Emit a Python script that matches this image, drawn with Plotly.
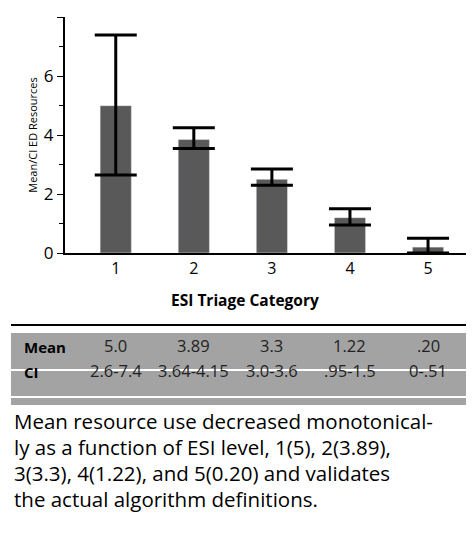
import plotly.graph_objects as go

# values
categories = [1, 2, 3, 4, 5]
mean_bar = [5.0, 3.85, 2.5, 1.2, 0.2]
ci_low = [2.65, 3.55, 2.3, 0.95, 0.0]
ci_high = [7.4, 4.25, 2.85, 1.5, 0.5]

row_mean = ["5.0", "3.89", "3.3", "1.22", ".20"]
row_ci = ["2.6-7.4", "3.64-4.15", "3.0-3.6", ".95-1.5", "0-.51"]

caption = [
    "Mean resource use decreased monotonical-",
    "ly as a function of ESI level, 1(5), 2(3.89),",
    "3(3.3), 4(1.22), and 5(0.20) and validates",
    "the actual algorithm definitions.",
]

W, H = 474, 538
L, R, T, B = 57, 4, 9, 293
pw, ph = W - L - R, H - T - B


def px(x):
    return (x - L) / pw


def py(y):
    return (H - B - y) / ph


FONT = "Open Sans"

fig = go.Figure(go.Bar(
    x=categories, y=mean_bar, width=0.4, marker_color="#595959",
    error_y=dict(type="data", symmetric=False,
                 array=[h - m for h, m in zip(ci_high, mean_bar)],
                 arrayminus=[m - l for m, l in zip(mean_bar, ci_low)],
                 color="black", thickness=3, width=21),
))

shapes = [
    dict(type="line", xref="paper", yref="paper", x0=px(3), x1=px(466), y0=py(317), y1=py(317),
         line=dict(color="black", width=2)),
    dict(type="rect", xref="paper", yref="paper", x0=px(3), x1=px(466), y0=py(325), y1=py(397),
         fillcolor="#a3a3a3", line_width=0, layer="below"),
    dict(type="line", xref="paper", yref="paper", x0=px(3), x1=px(466), y0=py(362), y1=py(362),
         line=dict(color="white", width=2)),
    dict(type="line", xref="paper", yref="paper", x0=px(3), x1=px(466), y0=py(389), y1=py(389),
         line=dict(color="white", width=2)),
]

ann = [dict(text="<b>ESI Triage Category</b>", xref="paper", yref="paper", x=px(237), y=py(305),
            showarrow=False, font=dict(size=15.5, color="black", family=FONT))]
ann.append(dict(text="<b>Mean</b>", xref="paper", yref="paper", x=px(14), y=py(351), xanchor="left",
                showarrow=False, font=dict(size=15, color="black", family=FONT)))
ann.append(dict(text="<b>CI</b>", xref="paper", yref="paper", x=px(14), y=py(376), xanchor="left",
                showarrow=False, font=dict(size=15, color="black", family=FONT)))
for c, m, ci in zip(categories, row_mean, row_ci):
    ann.append(dict(text=m, x=c, xref="x", yref="paper", y=py(351), showarrow=False,
                    font=dict(size=16.5, color="#222", family=FONT)))
    ann.append(dict(text=ci, x=c, xref="x", yref="paper", y=py(376), showarrow=False,
                    font=dict(size=16.5, color="#222", family=FONT)))
for i, line in enumerate(caption):
    ann.append(dict(text=line, xref="paper", yref="paper", x=px(4), y=py(429 + 26 * i), xanchor="left",
                    showarrow=False, font=dict(size=20.5, color="black", family=FONT)))

fig.update_layout(
    width=W, height=H, margin=dict(l=L, r=R, t=T, b=B, autoexpand=False),
    plot_bgcolor="white", paper_bgcolor="white", showlegend=False,
    font=dict(family=FONT, color="black"),
    shapes=shapes, annotations=ann,
    xaxis=dict(range=[0.35, 5.64], tickvals=categories, showline=True, linecolor="black", linewidth=2,
               ticks="", tickfont=dict(size=16), showgrid=False, zeroline=False, automargin=False),
    yaxis=dict(range=[0, 8.01], tickvals=[0, 2, 4, 6, 8], showline=True, linecolor="black", linewidth=2,
               ticks="outside", ticklen=6, tickcolor="black", tickfont=dict(size=17), showgrid=False,
               zeroline=False, automargin=False,
               minor=dict(tickvals=[1, 3, 5, 7], ticks="outside", ticklen=4, tickcolor="black"),
               title=dict(text="Mean/CI ED Resources", font=dict(size=11), standoff=4)),
)

fig.write_html("out.html")
